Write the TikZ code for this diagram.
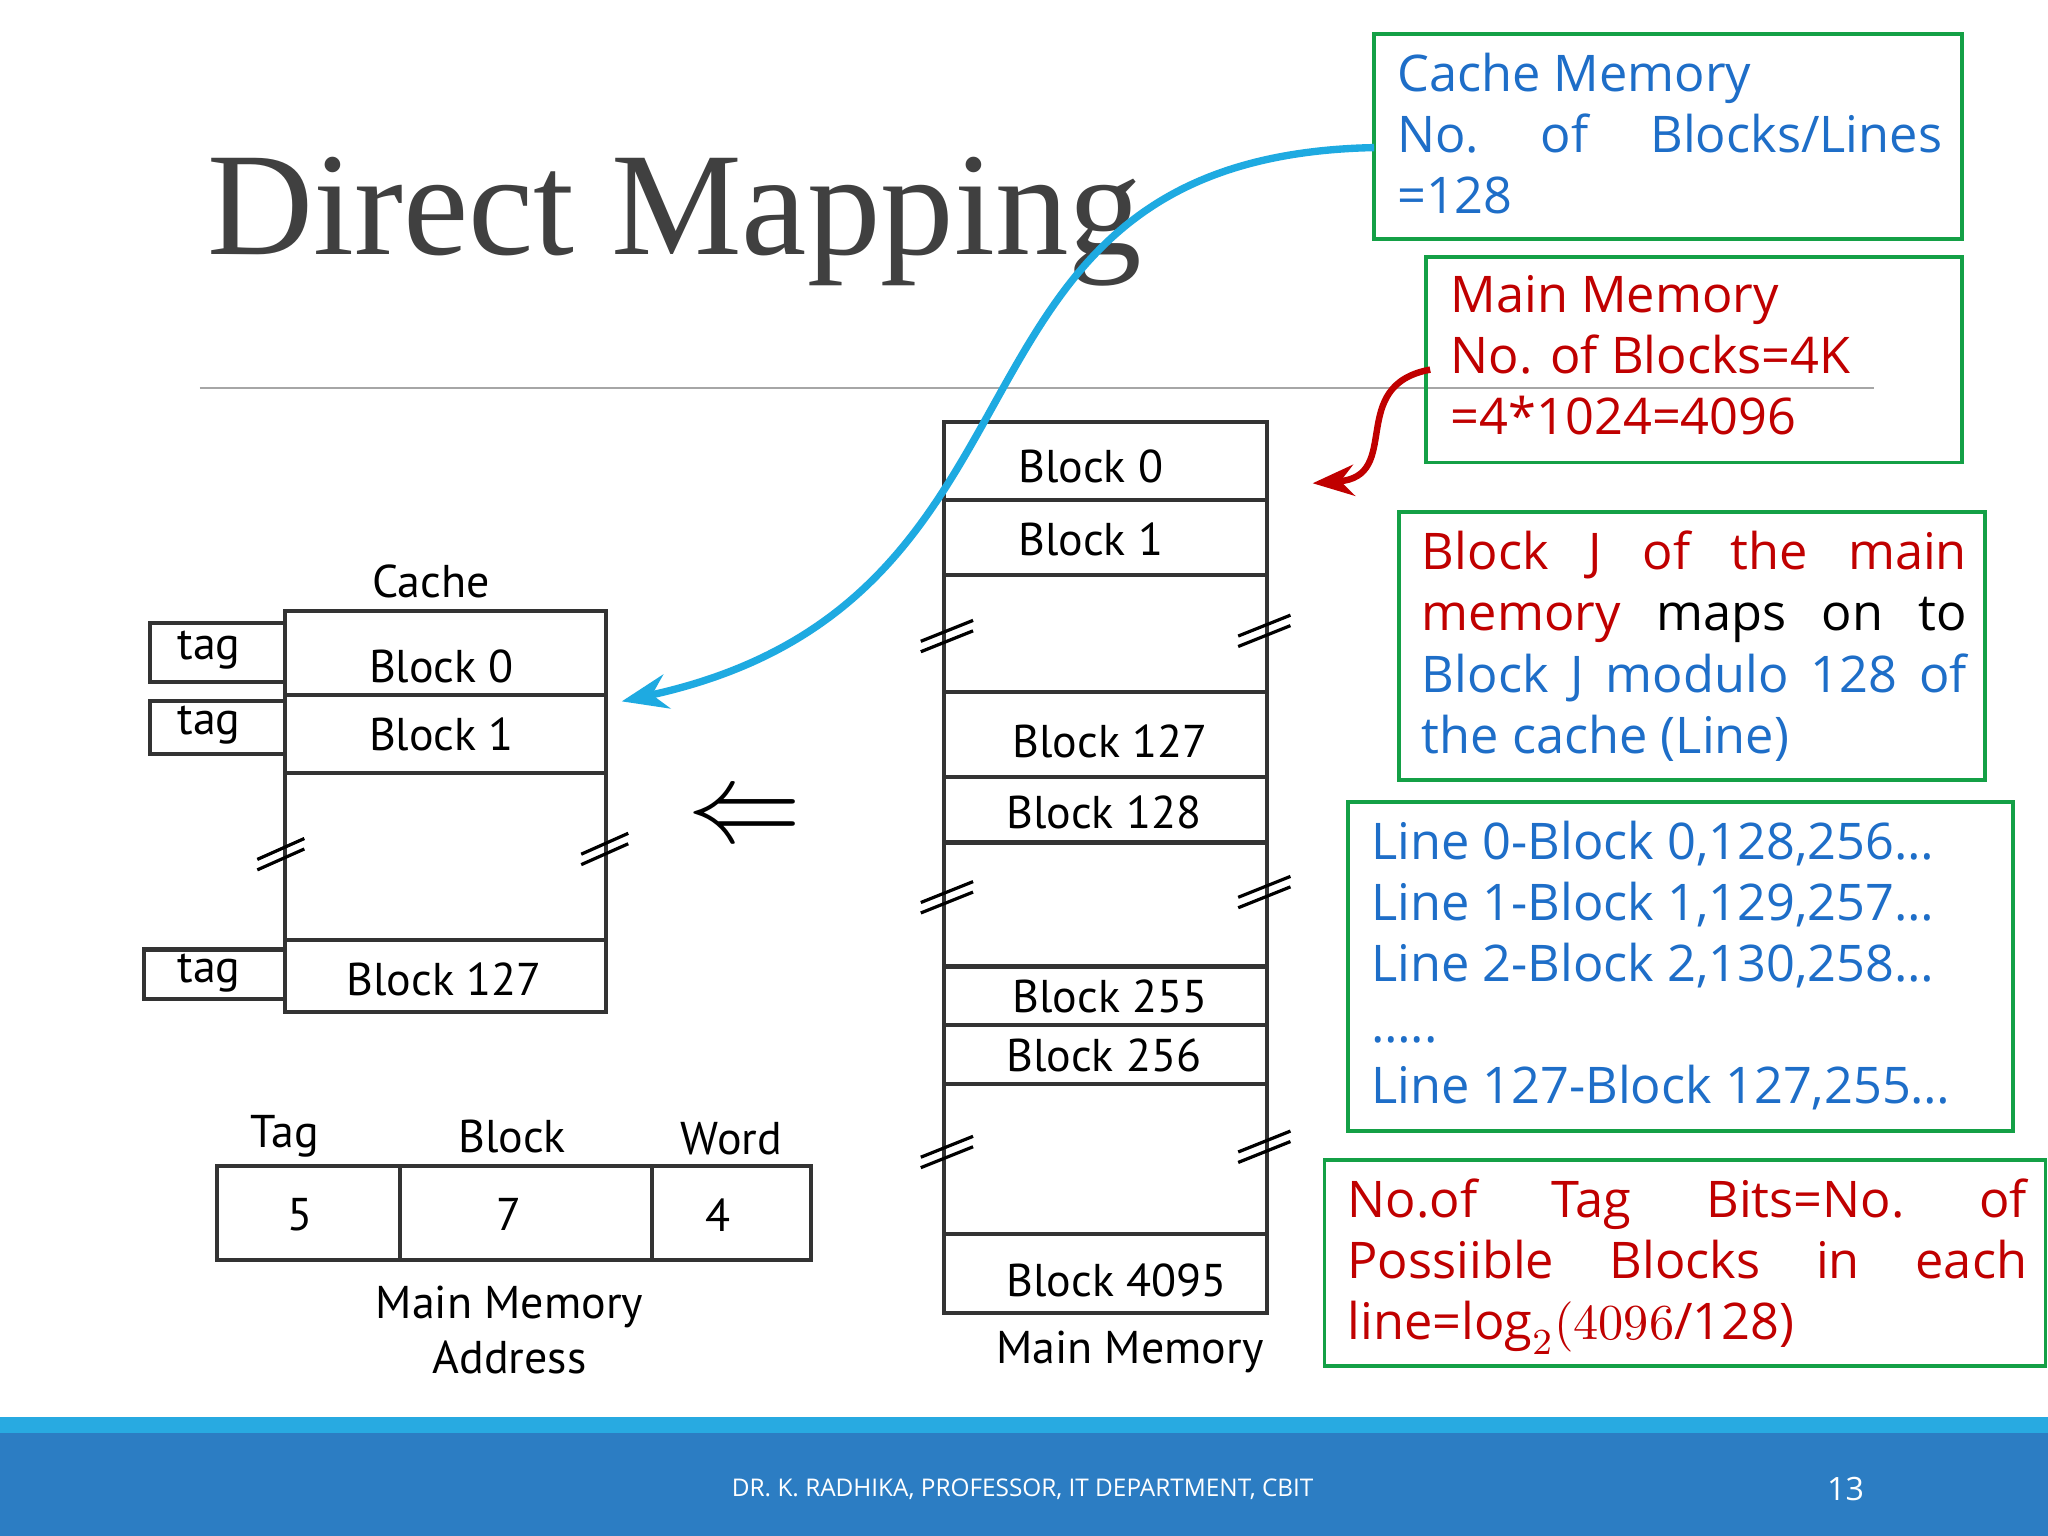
\documentclass[tikz,border=0pt]{standalone}
\usepackage{fontspec}
\setmainfont{Open Sans}
\newfontfamily\titlefont{Liberation Serif}
\newfontfamily\handfont{PT Sans}
\usetikzlibrary{arrows.meta}
\definecolor{bxgreen}{RGB}{20,160,70}
\definecolor{txblue}{RGB}{30,110,200}
\definecolor{txred}{RGB}{192,0,0}
\definecolor{ftlight}{RGB}{40,170,225}
\definecolor{ftdark}{RGB}{44,125,195}
\definecolor{curveblue}{RGB}{30,170,225}
\begin{document}
\begin{tikzpicture}[x=0.01cm,y=-0.01cm,
  box/.style={draw=bxgreen,line width=0.8pt},
  btxt/.style={anchor=north west,inner sep=0pt,font=\fontsize{11}{13.3}\selectfont,align=left},
  hand/.style={font=\handfont\fontsize{10}{12}\selectfont},
  sk/.style={draw=black!80,line width=0.9pt},
  brk/.style={line width=0.7pt}]
\useasboundingbox (0,0) rectangle (1568,1176);
\fill[white] (0,0) rectangle (1568,1176);
% footer
\fill[ftlight] (0,1085) rectangle (1568,1097);
\fill[ftdark] (0,1097) rectangle (1568,1176);
\node[text=white,font=\fontsize{5.3}{7}\selectfont] (foot) at (783,1140) {DR. K. RADHIKA, PROFESSOR, IT DEPARTMENT, CBIT};
\node[text=white,font=\fontsize{7}{8}\selectfont] (pg) at (1413,1140) {13};
% title
\node[anchor=base west,inner sep=0pt,text=black!75,font=\titlefont\fontsize{32}{36}\selectfont] (title) at (158,195) {Direct Mapping};
\draw[black!35,line width=0.5pt] (153,297) -- (1435,297);
% cache
\node[hand] (cachelbl) at (330,445) {Cache};
\draw[sk] (218,468) rectangle (464,775);
\draw[sk] (218,532) -- (464,532) (218,592) -- (464,592) (218,720) -- (464,720);
\draw[sk] (115,477) rectangle (218,522) (115,537) rectangle (218,577) (110,727) rectangle (218,765);
\node[hand] (t0) at (160,498) {tag};
\node[hand] (t1) at (160,555) {tag};
\node[hand] (t2) at (160,745) {tag};
\node[hand] (c0) at (338,510) {Block 0};
\node[hand] (c1) at (338,562) {Block 1};
\node[hand] (c2) at (340,750) {Block 127};
\foreach \x/\y in {215/652,463/648}{\draw[brk] (\x-18,\y+6) -- (\x+18,\y-10) (\x-18,\y+14) -- (\x+18,\y-2);}
% arrow
\node[font=\fontsize{24}{26}\selectfont] (dbl) at (570,628) {$\Leftarrow$};
% address
\draw[sk] (166,893) rectangle (621,965);
\draw[sk] (306,893) -- (306,965) (499,893) -- (499,965);
\node[hand] (tagh) at (218,870) {Tag};
\node[hand] (blkh) at (392,870) {Block};
\node[hand] (wrdh) at (560,872) {Word};
\node[hand] (v5) at (230,930) {5};
\node[hand] (v7) at (390,930) {7};
\node[hand] (v4) at (550,930) {4};
\node[hand,align=center] (mma) at (390,1018) {Main Memory\\Address};
% main memory
\draw[sk] (723,323) rectangle (970,1005);
\foreach \y in {383,440,530,595,645,740,785,830,945}{\draw[sk] (723,\y) -- (970,\y);}
\node[hand] (m0) at (835,357) {Block 0};
\node[hand] (m1) at (835,413) {Block 1};
\node[hand] (m127) at (850,568) {Block 127};
\node[hand] (m128) at (845,622) {Block 128};
\node[hand] (m255) at (850,763) {Block 255};
\node[hand] (m256) at (845,808) {Block 256};
\node[hand] (m4095) at (855,980) {Block 4095};
\node[hand] (mml) at (865,1035) {Main Memory};
\foreach \y in {485,685,880}{
 \draw[brk] (705,\y+6) -- (745,\y-10) (705,\y+14) -- (745,\y-2);
 \draw[brk] (948,\y+2) -- (988,\y-14) (948,\y+10) -- (988,\y-6);}
% text boxes
\draw[box] (1052,26) rectangle (1502,183);
\node[btxt,text=txblue] (b1) at (1069,40) {Cache Memory\\\makebox[4.17cm][s]{No.\hfill of\hfill Blocks/Lines}\\=128};
\draw[box] (1092,197) rectangle (1502,354);
\node[btxt,text=txred] (b2) at (1110,210) {Main Memory\\No. of Blocks=4K\\=4*1024=4096};
\draw[box] (1071,392) rectangle (1520,597);
\node[btxt] (b3) at (1088,406) {\makebox[4.17cm][s]{\color{txred}Block\hfill J\hfill of\hfill the\hfill main}\\\makebox[4.17cm][s]{\color{txred}memory\hfill\color{black}maps\hfill on\hfill to}\\\makebox[4.17cm][s]{\color{txblue}Block\hfill J\hfill modulo\hfill 128\hfill of}\\{\color{txblue}the cache (Line)}};
\draw[box] (1032,614) rectangle (1541,866);
\node[btxt,text=txblue] (b4) at (1049,628) {Line 0-Block 0,128,256…\\Line 1-Block 1,129,257…\\Line 2-Block 2,130,258…\\…..\\Line 127-Block 127,255…};
\draw[box] (1014,888) rectangle (1566,1046);
\node[btxt,text=txred] (b5) at (1031,902) {\makebox[5.2cm][s]{No.of\hfill Tag\hfill Bits=No.\hfill of}\\\makebox[5.2cm][s]{Possiible\hfill Blocks\hfill in\hfill each}\\line=$\log_2(4096$/128)};
% curves
\coordinate (cs) at (1052,113);
\coordinate (ce) at (476,537);
\draw[curveblue,line width=1.6pt,-{Stealth[length=10pt]}] (cs) .. controls (700,120) and (830,460) .. (ce);
\coordinate (rs) at (1095,283);
\coordinate (re) at (1005,370);
\draw[txred,line width=1.4pt,-{Stealth[length=9pt]}] (rs) .. controls (1030,295) and (1075,365) .. (re);
\end{tikzpicture}
\end{document}
